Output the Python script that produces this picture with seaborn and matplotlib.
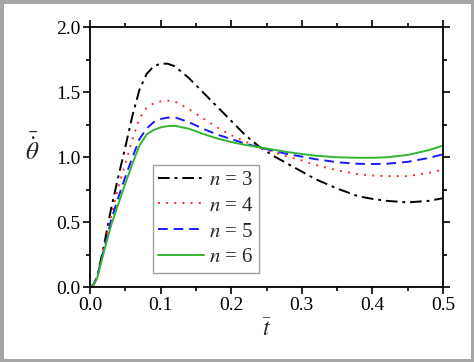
import numpy as np
import seaborn as sns
import matplotlib.pyplot as plt
from matplotlib.ticker import MultipleLocator
from matplotlib.patches import Rectangle

# values
t_bar = [0.0, 0.005, 0.01, 0.02, 0.03, 0.04, 0.05, 0.06, 0.07, 0.08, 0.09, 0.10,
         0.11, 0.12, 0.14, 0.16, 0.18, 0.20, 0.22, 0.24, 0.26, 0.28, 0.30, 0.32,
         0.35, 0.38, 0.40, 0.42, 0.45, 0.48, 0.50]

theta_n3 = [0.0, 0.02, 0.08, 0.33, 0.61, 0.85, 1.08, 1.32, 1.52, 1.64, 1.70, 1.72,
            1.72, 1.70, 1.61, 1.50, 1.39, 1.28, 1.17, 1.08, 1.01, 0.95, 0.89, 0.83,
            0.76, 0.70, 0.68, 0.665, 0.653, 0.665, 0.685]
theta_n4 = [0.0, 0.02, 0.08, 0.31, 0.55, 0.77, 0.95, 1.14, 1.30, 1.38, 1.415, 1.43,
            1.435, 1.43, 1.37, 1.30, 1.23, 1.17, 1.12, 1.076, 1.04, 1.005, 0.975, 0.94,
            0.90, 0.87, 0.86, 0.855, 0.855, 0.88, 0.905]
theta_n5 = [0.0, 0.02, 0.08, 0.30, 0.52, 0.69, 0.85, 1.00, 1.14, 1.22, 1.27, 1.295,
            1.305, 1.308, 1.27, 1.22, 1.175, 1.14, 1.105, 1.076, 1.05, 1.025, 1.005, 0.985,
            0.962, 0.95, 0.948, 0.95, 0.965, 0.995, 1.023]
theta_n6 = [0.0, 0.02, 0.07, 0.28, 0.48, 0.64, 0.80, 0.95, 1.09, 1.175, 1.21, 1.23,
            1.24, 1.242, 1.22, 1.18, 1.145, 1.117, 1.095, 1.077, 1.058, 1.04, 1.025, 1.012,
            1.0, 0.996, 0.996, 1.0, 1.018, 1.055, 1.09]

labels = ['$n$ = 3', '$n$ = 4', '$n$ = 5', '$n$ = 6']
colors = ['black', '#ff2a2a', '#1a1aff', '#33b533']
styles = [(0, (6, 2.5, 1.5, 2.5)), (0, (1, 3.2)), (0, (5, 3)), '-']

sns.set_style('ticks')
plt.rcParams['font.family'] = ['Liberation Serif', 'DejaVu Serif']
plt.rcParams['mathtext.fontset'] = 'stix'

fig = plt.figure(figsize=(4.74, 3.62), dpi=100)
ax = fig.add_axes([0.19, 0.2064, 0.7446, 0.7182])

for y, lab, c, ls in zip([theta_n3, theta_n4, theta_n5, theta_n6], labels, colors, styles):
    sns.lineplot(x=t_bar, y=y, ax=ax, color=c, linestyle=ls, linewidth=1.4,
                 label=lab, sort=False)

ax.set_xlim(0, 0.5)
ax.set_ylim(0, 2.0)
ax.xaxis.set_major_locator(MultipleLocator(0.1))
ax.xaxis.set_minor_locator(MultipleLocator(0.05))
ax.yaxis.set_major_locator(MultipleLocator(0.5))
ax.yaxis.set_minor_locator(MultipleLocator(0.25))
ax.xaxis.set_major_formatter(plt.FormatStrFormatter('%.1f'))
ax.yaxis.set_major_formatter(plt.FormatStrFormatter('%.1f'))
ax.tick_params(which='both', direction='out', top=True, right=True, width=1.2,
               labelsize=14, colors='black', pad=2)
ax.tick_params(which='major', length=5)
ax.tick_params(which='minor', length=3)
for s in ax.spines.values():
    s.set_visible(True)
    s.set_linewidth(1.3)
    s.set_color('black')

ax.set_xlabel(r'$\bar{t}$', fontsize=17, labelpad=4)
ax.set_ylabel(r'$\bar{\dot{\theta}}$', fontsize=18, rotation=0)
ax.yaxis.set_label_coords(-0.165, 0.47)

leg = ax.legend(loc='upper left', bbox_to_anchor=(0.178, 0.47), fontsize=15,
                frameon=True, fancybox=False, edgecolor='#888888', handlelength=2.2,
                handletextpad=0.25, borderpad=0.25, labelspacing=0.3,
                borderaxespad=0)
leg.get_frame().set_linewidth(1.0)

fig.patches.append(Rectangle((0, 0), 1, 1, transform=fig.transFigure, fill=False,
                             edgecolor='#a5a5a5', linewidth=5, zorder=10))

fig.savefig('out.png', dpi=100)
